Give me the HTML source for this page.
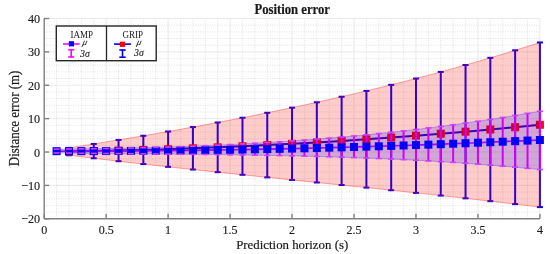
<!DOCTYPE html>
<html><head><meta charset="utf-8"><style>html,body{margin:0;padding:0;background:#fff;width:550px;height:254px;overflow:hidden}svg{display:block;filter:blur(0.4px)}</style></head>
<body><svg width="550" height="254" viewBox="0 0 550 254">
<style>
.mn{stroke:#d4d4d4;stroke-width:0.7;stroke-dasharray:1 1.4}
.mj{stroke:#e8e8e8;stroke-width:0.9}
text{font-family:"Liberation Serif",serif;fill:#1a1a1a;stroke:#1a1a1a;stroke-width:0.2px}
.tk text{font-size:13.1px;stroke-width:0.15px}
.lg{font-size:10.2px;stroke-width:0}
.lgi{font-size:9.2px;font-style:italic;stroke-width:0.1px}
.lgs{font-size:9.8px;font-style:italic;stroke-width:0.1px}
</style>
<rect width="550" height="254" fill="#fff"/>
<g><line x1="56.59" y1="18.50" x2="56.59" y2="218.80" class="mn"/><line x1="68.98" y1="18.50" x2="68.98" y2="218.80" class="mn"/><line x1="81.38" y1="18.50" x2="81.38" y2="218.80" class="mn"/><line x1="93.77" y1="18.50" x2="93.77" y2="218.80" class="mn"/><line x1="118.56" y1="18.50" x2="118.56" y2="218.80" class="mn"/><line x1="130.95" y1="18.50" x2="130.95" y2="218.80" class="mn"/><line x1="143.34" y1="18.50" x2="143.34" y2="218.80" class="mn"/><line x1="155.73" y1="18.50" x2="155.73" y2="218.80" class="mn"/><line x1="180.52" y1="18.50" x2="180.52" y2="218.80" class="mn"/><line x1="192.91" y1="18.50" x2="192.91" y2="218.80" class="mn"/><line x1="205.30" y1="18.50" x2="205.30" y2="218.80" class="mn"/><line x1="217.69" y1="18.50" x2="217.69" y2="218.80" class="mn"/><line x1="242.48" y1="18.50" x2="242.48" y2="218.80" class="mn"/><line x1="254.87" y1="18.50" x2="254.87" y2="218.80" class="mn"/><line x1="267.26" y1="18.50" x2="267.26" y2="218.80" class="mn"/><line x1="279.66" y1="18.50" x2="279.66" y2="218.80" class="mn"/><line x1="304.44" y1="18.50" x2="304.44" y2="218.80" class="mn"/><line x1="316.83" y1="18.50" x2="316.83" y2="218.80" class="mn"/><line x1="329.23" y1="18.50" x2="329.23" y2="218.80" class="mn"/><line x1="341.62" y1="18.50" x2="341.62" y2="218.80" class="mn"/><line x1="366.40" y1="18.50" x2="366.40" y2="218.80" class="mn"/><line x1="378.80" y1="18.50" x2="378.80" y2="218.80" class="mn"/><line x1="391.19" y1="18.50" x2="391.19" y2="218.80" class="mn"/><line x1="403.58" y1="18.50" x2="403.58" y2="218.80" class="mn"/><line x1="428.37" y1="18.50" x2="428.37" y2="218.80" class="mn"/><line x1="440.76" y1="18.50" x2="440.76" y2="218.80" class="mn"/><line x1="453.15" y1="18.50" x2="453.15" y2="218.80" class="mn"/><line x1="465.55" y1="18.50" x2="465.55" y2="218.80" class="mn"/><line x1="490.33" y1="18.50" x2="490.33" y2="218.80" class="mn"/><line x1="502.72" y1="18.50" x2="502.72" y2="218.80" class="mn"/><line x1="515.12" y1="18.50" x2="515.12" y2="218.80" class="mn"/><line x1="527.51" y1="18.50" x2="527.51" y2="218.80" class="mn"/><line x1="44.20" y1="212.12" x2="539.90" y2="212.12" class="mn"/><line x1="44.20" y1="205.45" x2="539.90" y2="205.45" class="mn"/><line x1="44.20" y1="198.77" x2="539.90" y2="198.77" class="mn"/><line x1="44.20" y1="192.09" x2="539.90" y2="192.09" class="mn"/><line x1="44.20" y1="178.74" x2="539.90" y2="178.74" class="mn"/><line x1="44.20" y1="172.06" x2="539.90" y2="172.06" class="mn"/><line x1="44.20" y1="165.39" x2="539.90" y2="165.39" class="mn"/><line x1="44.20" y1="158.71" x2="539.90" y2="158.71" class="mn"/><line x1="44.20" y1="145.36" x2="539.90" y2="145.36" class="mn"/><line x1="44.20" y1="138.68" x2="539.90" y2="138.68" class="mn"/><line x1="44.20" y1="132.00" x2="539.90" y2="132.00" class="mn"/><line x1="44.20" y1="125.33" x2="539.90" y2="125.33" class="mn"/><line x1="44.20" y1="111.97" x2="539.90" y2="111.97" class="mn"/><line x1="44.20" y1="105.30" x2="539.90" y2="105.30" class="mn"/><line x1="44.20" y1="98.62" x2="539.90" y2="98.62" class="mn"/><line x1="44.20" y1="91.94" x2="539.90" y2="91.94" class="mn"/><line x1="44.20" y1="78.59" x2="539.90" y2="78.59" class="mn"/><line x1="44.20" y1="71.91" x2="539.90" y2="71.91" class="mn"/><line x1="44.20" y1="65.24" x2="539.90" y2="65.24" class="mn"/><line x1="44.20" y1="58.56" x2="539.90" y2="58.56" class="mn"/><line x1="44.20" y1="45.21" x2="539.90" y2="45.21" class="mn"/><line x1="44.20" y1="38.53" x2="539.90" y2="38.53" class="mn"/><line x1="44.20" y1="31.85" x2="539.90" y2="31.85" class="mn"/><line x1="44.20" y1="25.18" x2="539.90" y2="25.18" class="mn"/><line x1="106.16" y1="18.50" x2="106.16" y2="218.80" class="mj"/><line x1="168.12" y1="18.50" x2="168.12" y2="218.80" class="mj"/><line x1="230.09" y1="18.50" x2="230.09" y2="218.80" class="mj"/><line x1="292.05" y1="18.50" x2="292.05" y2="218.80" class="mj"/><line x1="354.01" y1="18.50" x2="354.01" y2="218.80" class="mj"/><line x1="415.97" y1="18.50" x2="415.97" y2="218.80" class="mj"/><line x1="477.94" y1="18.50" x2="477.94" y2="218.80" class="mj"/><line x1="539.90" y1="18.50" x2="539.90" y2="218.80" class="mj"/><line x1="44.20" y1="185.42" x2="539.90" y2="185.42" class="mj"/><line x1="44.20" y1="152.03" x2="539.90" y2="152.03" class="mj"/><line x1="44.20" y1="118.65" x2="539.90" y2="118.65" class="mj"/><line x1="44.20" y1="85.27" x2="539.90" y2="85.27" class="mj"/><line x1="44.20" y1="51.88" x2="539.90" y2="51.88" class="mj"/><line x1="44.20" y1="18.50" x2="539.90" y2="18.50" class="mj"/></g>
<g stroke="#0000ff" stroke-width="2"><line x1="68.98" y1="147.88" x2="68.98" y2="155.26"/><line x1="65.98" y1="147.88" x2="71.98" y2="147.88"/><line x1="65.98" y1="155.26" x2="71.98" y2="155.26"/><line x1="93.77" y1="143.95" x2="93.77" y2="158.28"/><line x1="90.77" y1="143.95" x2="96.77" y2="143.95"/><line x1="90.77" y1="158.28" x2="96.77" y2="158.28"/><line x1="118.55" y1="139.93" x2="118.55" y2="161.21"/><line x1="115.55" y1="139.93" x2="121.55" y2="139.93"/><line x1="115.55" y1="161.21" x2="121.55" y2="161.21"/><line x1="143.34" y1="135.78" x2="143.34" y2="164.05"/><line x1="140.34" y1="135.78" x2="146.34" y2="135.78"/><line x1="140.34" y1="164.05" x2="146.34" y2="164.05"/><line x1="168.12" y1="131.50" x2="168.12" y2="166.82"/><line x1="165.12" y1="131.50" x2="171.12" y2="131.50"/><line x1="165.12" y1="166.82" x2="171.12" y2="166.82"/><line x1="192.91" y1="127.08" x2="192.91" y2="169.52"/><line x1="189.91" y1="127.08" x2="195.91" y2="127.08"/><line x1="189.91" y1="169.52" x2="195.91" y2="169.52"/><line x1="217.69" y1="122.49" x2="217.69" y2="172.17"/><line x1="214.69" y1="122.49" x2="220.69" y2="122.49"/><line x1="214.69" y1="172.17" x2="220.69" y2="172.17"/><line x1="242.48" y1="117.73" x2="242.48" y2="174.78"/><line x1="239.48" y1="117.73" x2="245.48" y2="117.73"/><line x1="239.48" y1="174.78" x2="245.48" y2="174.78"/><line x1="267.26" y1="112.79" x2="267.26" y2="177.36"/><line x1="264.26" y1="112.79" x2="270.26" y2="112.79"/><line x1="264.26" y1="177.36" x2="270.26" y2="177.36"/><line x1="292.05" y1="107.65" x2="292.05" y2="179.92"/><line x1="289.05" y1="107.65" x2="295.05" y2="107.65"/><line x1="289.05" y1="179.92" x2="295.05" y2="179.92"/><line x1="316.83" y1="102.30" x2="316.83" y2="182.48"/><line x1="313.83" y1="102.30" x2="319.83" y2="102.30"/><line x1="313.83" y1="182.48" x2="319.83" y2="182.48"/><line x1="341.62" y1="96.73" x2="341.62" y2="185.04"/><line x1="338.62" y1="96.73" x2="344.62" y2="96.73"/><line x1="338.62" y1="185.04" x2="344.62" y2="185.04"/><line x1="366.40" y1="90.91" x2="366.40" y2="187.61"/><line x1="363.40" y1="90.91" x2="369.40" y2="90.91"/><line x1="363.40" y1="187.61" x2="369.40" y2="187.61"/><line x1="391.19" y1="84.85" x2="391.19" y2="190.22"/><line x1="388.19" y1="84.85" x2="394.19" y2="84.85"/><line x1="388.19" y1="190.22" x2="394.19" y2="190.22"/><line x1="415.97" y1="78.52" x2="415.97" y2="192.87"/><line x1="412.97" y1="78.52" x2="418.97" y2="78.52"/><line x1="412.97" y1="192.87" x2="418.97" y2="192.87"/><line x1="440.76" y1="71.92" x2="440.76" y2="195.56"/><line x1="437.76" y1="71.92" x2="443.76" y2="71.92"/><line x1="437.76" y1="195.56" x2="443.76" y2="195.56"/><line x1="465.54" y1="65.03" x2="465.54" y2="198.32"/><line x1="462.54" y1="65.03" x2="468.54" y2="65.03"/><line x1="462.54" y1="198.32" x2="468.54" y2="198.32"/><line x1="490.33" y1="57.83" x2="490.33" y2="201.16"/><line x1="487.33" y1="57.83" x2="493.33" y2="57.83"/><line x1="487.33" y1="201.16" x2="493.33" y2="201.16"/><line x1="515.12" y1="50.31" x2="515.12" y2="204.08"/><line x1="512.12" y1="50.31" x2="518.12" y2="50.31"/><line x1="512.12" y1="204.08" x2="518.12" y2="204.08"/><line x1="539.90" y1="42.47" x2="539.90" y2="207.09"/><line x1="536.90" y1="42.47" x2="542.90" y2="42.47"/><line x1="536.90" y1="207.09" x2="542.90" y2="207.09"/></g>
<polygon points="68.98,147.88 93.77,143.95 118.55,139.93 143.34,135.78 168.12,131.50 192.91,127.08 217.69,122.49 242.48,117.73 267.26,112.79 292.05,107.65 316.83,102.30 341.62,96.73 366.40,90.91 391.19,84.85 415.97,78.52 440.76,71.92 465.54,65.03 490.33,57.83 515.12,50.31 539.90,42.47 539.90,207.09 515.12,204.08 490.33,201.16 465.54,198.32 440.76,195.56 415.97,192.87 391.19,190.22 366.40,187.61 341.62,185.04 316.83,182.48 292.05,179.92 267.26,177.36 242.48,174.78 217.69,172.17 192.91,169.52 168.12,166.82 143.34,164.05 118.55,161.21 93.77,158.28 68.98,155.26" fill="#ff0000" fill-opacity="0.2" stroke="#ff0000" stroke-opacity="0.35" stroke-width="1"/>
<polyline points="68.98,151.57 93.77,151.12 118.55,150.57 143.34,149.92 168.12,149.16 192.91,148.30 217.69,147.33 242.48,146.26 267.26,145.08 292.05,143.79 316.83,142.39 341.62,140.88 366.40,139.26 391.19,137.54 415.97,135.70 440.76,133.74 465.54,131.67 490.33,129.49 515.12,127.20 539.90,124.78" fill="none" stroke="#50009a" stroke-width="2"/>
<g fill="#ff0000"><rect x="64.98" y="147.57" width="8.0" height="8.0"/><rect x="89.77" y="147.12" width="8.0" height="8.0"/><rect x="114.55" y="146.57" width="8.0" height="8.0"/><rect x="139.34" y="145.92" width="8.0" height="8.0"/><rect x="164.12" y="145.16" width="8.0" height="8.0"/><rect x="188.91" y="144.30" width="8.0" height="8.0"/><rect x="213.69" y="143.33" width="8.0" height="8.0"/><rect x="238.48" y="142.26" width="8.0" height="8.0"/><rect x="263.26" y="141.08" width="8.0" height="8.0"/><rect x="288.05" y="139.79" width="8.0" height="8.0"/><rect x="312.83" y="138.39" width="8.0" height="8.0"/><rect x="337.62" y="136.88" width="8.0" height="8.0"/><rect x="362.40" y="135.26" width="8.0" height="8.0"/><rect x="387.19" y="133.54" width="8.0" height="8.0"/><rect x="411.97" y="131.70" width="8.0" height="8.0"/><rect x="436.76" y="129.74" width="8.0" height="8.0"/><rect x="461.54" y="127.67" width="8.0" height="8.0"/><rect x="486.33" y="125.49" width="8.0" height="8.0"/><rect x="511.12" y="123.20" width="8.0" height="8.0"/><rect x="535.90" y="120.78" width="8.0" height="8.0"/></g>
<g stroke="#ff00ff" stroke-width="2"><line x1="56.59" y1="149.11" x2="56.59" y2="152.90"/><line x1="68.98" y1="149.00" x2="68.98" y2="153.07"/><line x1="81.38" y1="148.87" x2="81.38" y2="153.23"/><line x1="93.77" y1="148.70" x2="93.77" y2="153.37"/><line x1="106.16" y1="148.50" x2="106.16" y2="153.50"/><line x1="118.55" y1="148.28" x2="118.55" y2="153.63"/><line x1="130.95" y1="148.02" x2="130.95" y2="153.75"/><line x1="143.34" y1="147.72" x2="143.34" y2="153.87"/><line x1="155.73" y1="147.39" x2="155.73" y2="153.99"/><line x1="168.12" y1="147.02" x2="168.12" y2="154.10"/><line x1="180.52" y1="146.61" x2="180.52" y2="154.23"/><line x1="192.91" y1="146.16" x2="192.91" y2="154.35"/><line x1="205.30" y1="145.66" x2="205.30" y2="154.49"/><line x1="217.69" y1="145.13" x2="217.69" y2="154.64"/><line x1="230.09" y1="144.55" x2="230.09" y2="154.79"/><line x1="242.48" y1="143.92" x2="242.48" y2="154.97"/><line x1="254.87" y1="143.24" x2="254.87" y2="155.16"/><line x1="267.26" y1="142.52" x2="267.26" y2="155.37"/><line x1="279.66" y1="141.74" x2="279.66" y2="155.60"/><line x1="292.05" y1="140.92" x2="292.05" y2="155.86"/><line x1="304.44" y1="140.04" x2="304.44" y2="156.14"/><line x1="316.83" y1="139.10" x2="316.83" y2="156.46"/><line x1="329.23" y1="138.11" x2="329.23" y2="156.80"/><line x1="341.62" y1="137.06" x2="341.62" y2="157.18"/><line x1="354.01" y1="135.95" x2="354.01" y2="157.59"/><line x1="366.40" y1="134.78" x2="366.40" y2="158.04"/><line x1="378.80" y1="133.54" x2="378.80" y2="158.53"/><line x1="391.19" y1="132.25" x2="391.19" y2="159.06"/><line x1="403.58" y1="130.88" x2="403.58" y2="159.64"/><line x1="415.97" y1="129.46" x2="415.97" y2="160.26"/><line x1="428.37" y1="127.96" x2="428.37" y2="160.93"/><line x1="440.76" y1="126.39" x2="440.76" y2="161.66"/><line x1="453.15" y1="124.76" x2="453.15" y2="162.44"/><line x1="465.54" y1="123.05" x2="465.54" y2="163.27"/><line x1="477.94" y1="121.27" x2="477.94" y2="164.16"/><line x1="490.33" y1="119.41" x2="490.33" y2="165.12"/><line x1="502.72" y1="117.47" x2="502.72" y2="166.13"/><line x1="515.12" y1="115.46" x2="515.12" y2="167.21"/><line x1="527.51" y1="113.37" x2="527.51" y2="168.36"/><line x1="539.90" y1="111.20" x2="539.90" y2="169.58"/></g>
<polygon points="56.59,149.11 68.98,149.00 81.38,148.87 93.77,148.70 106.16,148.50 118.55,148.28 130.95,148.02 143.34,147.72 155.73,147.39 168.12,147.02 180.52,146.61 192.91,146.16 205.30,145.66 217.69,145.13 230.09,144.55 242.48,143.92 254.87,143.24 267.26,142.52 279.66,141.74 292.05,140.92 304.44,140.04 316.83,139.10 329.23,138.11 341.62,137.06 354.01,135.95 366.40,134.78 378.80,133.54 391.19,132.25 403.58,130.88 415.97,129.46 428.37,127.96 440.76,126.39 453.15,124.76 465.54,123.05 477.94,121.27 490.33,119.41 502.72,117.47 515.12,115.46 527.51,113.37 539.90,111.20 539.90,169.58 527.51,168.36 515.12,167.21 502.72,166.13 490.33,165.12 477.94,164.16 465.54,163.27 453.15,162.44 440.76,161.66 428.37,160.93 415.97,160.26 403.58,159.64 391.19,159.06 378.80,158.53 366.40,158.04 354.01,157.59 341.62,157.18 329.23,156.80 316.83,156.46 304.44,156.14 292.05,155.86 279.66,155.60 267.26,155.37 254.87,155.16 242.48,154.97 230.09,154.79 217.69,154.64 205.30,154.49 192.91,154.35 180.52,154.23 168.12,154.10 155.73,153.99 143.34,153.87 130.95,153.75 118.55,153.63 106.16,153.50 93.77,153.37 81.38,153.23 68.98,153.07 56.59,152.90" fill="#0000ff" fill-opacity="0.18" stroke="#0000ff" stroke-opacity="0.25" stroke-width="1"/>
<polyline points="56.59,151.17 68.98,151.16 81.38,151.13 93.77,151.09 106.16,151.04 118.55,150.97 130.95,150.89 143.34,150.80 155.73,150.69 168.12,150.57 180.52,150.43 192.91,150.28 205.30,150.12 217.69,149.94 230.09,149.74 242.48,149.54 254.87,149.31 267.26,149.08 279.66,148.82 292.05,148.56 304.44,148.28 316.83,147.98 329.23,147.67 341.62,147.34 354.01,147.00 366.40,146.64 378.80,146.27 391.19,145.88 403.58,145.48 415.97,145.06 428.37,144.63 440.76,144.18 453.15,143.71 465.54,143.23 477.94,142.73 490.33,142.22 502.72,141.69 515.12,141.14 527.51,140.58 539.90,140.00" fill="none" stroke="#b000ff" stroke-width="1.7"/>
<g fill="#0000ff"><rect x="52.59" y="147.17" width="8.0" height="8.0"/><rect x="64.98" y="147.16" width="8.0" height="8.0"/><rect x="77.38" y="147.13" width="8.0" height="8.0"/><rect x="89.77" y="147.09" width="8.0" height="8.0"/><rect x="102.16" y="147.04" width="8.0" height="8.0"/><rect x="114.55" y="146.97" width="8.0" height="8.0"/><rect x="126.95" y="146.89" width="8.0" height="8.0"/><rect x="139.34" y="146.80" width="8.0" height="8.0"/><rect x="151.73" y="146.69" width="8.0" height="8.0"/><rect x="164.12" y="146.57" width="8.0" height="8.0"/><rect x="176.52" y="146.43" width="8.0" height="8.0"/><rect x="188.91" y="146.28" width="8.0" height="8.0"/><rect x="201.30" y="146.12" width="8.0" height="8.0"/><rect x="213.69" y="145.94" width="8.0" height="8.0"/><rect x="226.09" y="145.74" width="8.0" height="8.0"/><rect x="238.48" y="145.54" width="8.0" height="8.0"/><rect x="250.87" y="145.31" width="8.0" height="8.0"/><rect x="263.26" y="145.08" width="8.0" height="8.0"/><rect x="275.66" y="144.82" width="8.0" height="8.0"/><rect x="288.05" y="144.56" width="8.0" height="8.0"/><rect x="300.44" y="144.28" width="8.0" height="8.0"/><rect x="312.83" y="143.98" width="8.0" height="8.0"/><rect x="325.23" y="143.67" width="8.0" height="8.0"/><rect x="337.62" y="143.34" width="8.0" height="8.0"/><rect x="350.01" y="143.00" width="8.0" height="8.0"/><rect x="362.40" y="142.64" width="8.0" height="8.0"/><rect x="374.80" y="142.27" width="8.0" height="8.0"/><rect x="387.19" y="141.88" width="8.0" height="8.0"/><rect x="399.58" y="141.48" width="8.0" height="8.0"/><rect x="411.97" y="141.06" width="8.0" height="8.0"/><rect x="424.37" y="140.63" width="8.0" height="8.0"/><rect x="436.76" y="140.18" width="8.0" height="8.0"/><rect x="449.15" y="139.71" width="8.0" height="8.0"/><rect x="461.54" y="139.23" width="8.0" height="8.0"/><rect x="473.94" y="138.73" width="8.0" height="8.0"/><rect x="486.33" y="138.22" width="8.0" height="8.0"/><rect x="498.72" y="137.69" width="8.0" height="8.0"/><rect x="511.12" y="137.14" width="8.0" height="8.0"/><rect x="523.51" y="136.58" width="8.0" height="8.0"/><rect x="535.90" y="136.00" width="8.0" height="8.0"/></g>
<g stroke="#d040ff" stroke-width="1.6"><line x1="53.59" y1="149.11" x2="59.59" y2="149.11"/><line x1="53.59" y1="152.90" x2="59.59" y2="152.90"/><line x1="65.98" y1="149.00" x2="71.98" y2="149.00"/><line x1="65.98" y1="153.07" x2="71.98" y2="153.07"/><line x1="78.38" y1="148.87" x2="84.38" y2="148.87"/><line x1="78.38" y1="153.23" x2="84.38" y2="153.23"/><line x1="90.77" y1="148.70" x2="96.77" y2="148.70"/><line x1="90.77" y1="153.37" x2="96.77" y2="153.37"/><line x1="103.16" y1="148.50" x2="109.16" y2="148.50"/><line x1="103.16" y1="153.50" x2="109.16" y2="153.50"/><line x1="115.55" y1="148.28" x2="121.55" y2="148.28"/><line x1="115.55" y1="153.63" x2="121.55" y2="153.63"/><line x1="127.95" y1="148.02" x2="133.95" y2="148.02"/><line x1="127.95" y1="153.75" x2="133.95" y2="153.75"/><line x1="140.34" y1="147.72" x2="146.34" y2="147.72"/><line x1="140.34" y1="153.87" x2="146.34" y2="153.87"/><line x1="152.73" y1="147.39" x2="158.73" y2="147.39"/><line x1="152.73" y1="153.99" x2="158.73" y2="153.99"/><line x1="165.12" y1="147.02" x2="171.12" y2="147.02"/><line x1="165.12" y1="154.10" x2="171.12" y2="154.10"/><line x1="177.52" y1="146.61" x2="183.52" y2="146.61"/><line x1="177.52" y1="154.23" x2="183.52" y2="154.23"/><line x1="189.91" y1="146.16" x2="195.91" y2="146.16"/><line x1="189.91" y1="154.35" x2="195.91" y2="154.35"/><line x1="202.30" y1="145.66" x2="208.30" y2="145.66"/><line x1="202.30" y1="154.49" x2="208.30" y2="154.49"/><line x1="214.69" y1="145.13" x2="220.69" y2="145.13"/><line x1="214.69" y1="154.64" x2="220.69" y2="154.64"/><line x1="227.09" y1="144.55" x2="233.09" y2="144.55"/><line x1="227.09" y1="154.79" x2="233.09" y2="154.79"/><line x1="239.48" y1="143.92" x2="245.48" y2="143.92"/><line x1="239.48" y1="154.97" x2="245.48" y2="154.97"/><line x1="251.87" y1="143.24" x2="257.87" y2="143.24"/><line x1="251.87" y1="155.16" x2="257.87" y2="155.16"/><line x1="264.26" y1="142.52" x2="270.26" y2="142.52"/><line x1="264.26" y1="155.37" x2="270.26" y2="155.37"/><line x1="276.66" y1="141.74" x2="282.66" y2="141.74"/><line x1="276.66" y1="155.60" x2="282.66" y2="155.60"/><line x1="289.05" y1="140.92" x2="295.05" y2="140.92"/><line x1="289.05" y1="155.86" x2="295.05" y2="155.86"/><line x1="301.44" y1="140.04" x2="307.44" y2="140.04"/><line x1="301.44" y1="156.14" x2="307.44" y2="156.14"/><line x1="313.83" y1="139.10" x2="319.83" y2="139.10"/><line x1="313.83" y1="156.46" x2="319.83" y2="156.46"/><line x1="326.23" y1="138.11" x2="332.23" y2="138.11"/><line x1="326.23" y1="156.80" x2="332.23" y2="156.80"/><line x1="338.62" y1="137.06" x2="344.62" y2="137.06"/><line x1="338.62" y1="157.18" x2="344.62" y2="157.18"/><line x1="351.01" y1="135.95" x2="357.01" y2="135.95"/><line x1="351.01" y1="157.59" x2="357.01" y2="157.59"/><line x1="363.40" y1="134.78" x2="369.40" y2="134.78"/><line x1="363.40" y1="158.04" x2="369.40" y2="158.04"/><line x1="375.80" y1="133.54" x2="381.80" y2="133.54"/><line x1="375.80" y1="158.53" x2="381.80" y2="158.53"/><line x1="388.19" y1="132.25" x2="394.19" y2="132.25"/><line x1="388.19" y1="159.06" x2="394.19" y2="159.06"/><line x1="400.58" y1="130.88" x2="406.58" y2="130.88"/><line x1="400.58" y1="159.64" x2="406.58" y2="159.64"/><line x1="412.97" y1="129.46" x2="418.97" y2="129.46"/><line x1="412.97" y1="160.26" x2="418.97" y2="160.26"/><line x1="425.37" y1="127.96" x2="431.37" y2="127.96"/><line x1="425.37" y1="160.93" x2="431.37" y2="160.93"/><line x1="437.76" y1="126.39" x2="443.76" y2="126.39"/><line x1="437.76" y1="161.66" x2="443.76" y2="161.66"/><line x1="450.15" y1="124.76" x2="456.15" y2="124.76"/><line x1="450.15" y1="162.44" x2="456.15" y2="162.44"/><line x1="462.54" y1="123.05" x2="468.54" y2="123.05"/><line x1="462.54" y1="163.27" x2="468.54" y2="163.27"/><line x1="474.94" y1="121.27" x2="480.94" y2="121.27"/><line x1="474.94" y1="164.16" x2="480.94" y2="164.16"/><line x1="487.33" y1="119.41" x2="493.33" y2="119.41"/><line x1="487.33" y1="165.12" x2="493.33" y2="165.12"/><line x1="499.72" y1="117.47" x2="505.72" y2="117.47"/><line x1="499.72" y1="166.13" x2="505.72" y2="166.13"/><line x1="512.12" y1="115.46" x2="518.12" y2="115.46"/><line x1="512.12" y1="167.21" x2="518.12" y2="167.21"/><line x1="524.51" y1="113.37" x2="530.51" y2="113.37"/><line x1="524.51" y1="168.36" x2="530.51" y2="168.36"/><line x1="536.90" y1="111.20" x2="542.90" y2="111.20"/><line x1="536.90" y1="169.58" x2="542.90" y2="169.58"/></g>
<g stroke="#808080" stroke-width="1.4"><line x1="44.20" y1="18.50" x2="44.20" y2="218.80"/><line x1="44.20" y1="218.80" x2="539.90" y2="218.80"/><line x1="44.20" y1="218.80" x2="49.20" y2="218.80"/><line x1="44.20" y1="185.42" x2="49.20" y2="185.42"/><line x1="44.20" y1="152.03" x2="49.20" y2="152.03"/><line x1="44.20" y1="118.65" x2="49.20" y2="118.65"/><line x1="44.20" y1="85.27" x2="49.20" y2="85.27"/><line x1="44.20" y1="51.88" x2="49.20" y2="51.88"/><line x1="44.20" y1="18.50" x2="49.20" y2="18.50"/><line x1="44.20" y1="218.80" x2="44.20" y2="213.80"/><line x1="106.16" y1="218.80" x2="106.16" y2="213.80"/><line x1="168.12" y1="218.80" x2="168.12" y2="213.80"/><line x1="230.09" y1="218.80" x2="230.09" y2="213.80"/><line x1="292.05" y1="218.80" x2="292.05" y2="213.80"/><line x1="354.01" y1="218.80" x2="354.01" y2="213.80"/><line x1="415.97" y1="218.80" x2="415.97" y2="213.80"/><line x1="477.94" y1="218.80" x2="477.94" y2="213.80"/><line x1="539.90" y1="218.80" x2="539.90" y2="213.80"/></g>
<g class="tk"><text transform="translate(40.20,223.40) scale(0.93,1)" text-anchor="end">−20</text><text transform="translate(40.20,190.02) scale(0.93,1)" text-anchor="end">−10</text><text transform="translate(40.20,156.63) scale(0.93,1)" text-anchor="end">0</text><text transform="translate(40.20,123.25) scale(0.93,1)" text-anchor="end">10</text><text transform="translate(40.20,89.87) scale(0.93,1)" text-anchor="end">20</text><text transform="translate(40.20,56.48) scale(0.93,1)" text-anchor="end">30</text><text transform="translate(40.20,23.10) scale(0.93,1)" text-anchor="end">40</text><text transform="translate(44.20,233.6) scale(0.92,1)" text-anchor="middle">0</text><text transform="translate(106.16,233.6) scale(0.92,1)" text-anchor="middle">0.5</text><text transform="translate(168.12,233.6) scale(0.92,1)" text-anchor="middle">1</text><text transform="translate(230.09,233.6) scale(0.92,1)" text-anchor="middle">1.5</text><text transform="translate(292.05,233.6) scale(0.92,1)" text-anchor="middle">2</text><text transform="translate(354.01,233.6) scale(0.92,1)" text-anchor="middle">2.5</text><text transform="translate(415.97,233.6) scale(0.92,1)" text-anchor="middle">3</text><text transform="translate(477.94,233.6) scale(0.92,1)" text-anchor="middle">3.5</text><text transform="translate(539.90,233.6) scale(0.92,1)" text-anchor="middle">4</text></g>
<text x="292.2" y="13.5" text-anchor="middle" font-weight="bold" font-size="14" stroke-width="0.3" textLength="75.5" lengthAdjust="spacingAndGlyphs">Position error</text>
<text x="292.2" y="249.1" text-anchor="middle" font-size="13.4" textLength="112" lengthAdjust="spacingAndGlyphs">Prediction horizon (s)</text>
<text transform="translate(18.9,118.4) rotate(-90)" text-anchor="middle" font-size="13.7" textLength="95.5" lengthAdjust="spacingAndGlyphs">Distance error (m)</text>

<rect x="56.3" y="26" width="99.9" height="34.7" fill="#fff" stroke="#262626" stroke-width="1.4"/>
<line x1="106.5" y1="26" x2="106.5" y2="60.7" stroke="#262626" stroke-width="1.3"/>
<text x="81.8" y="37.5" text-anchor="middle" class="lg" textLength="22.6" lengthAdjust="spacingAndGlyphs">IAMP</text>
<text x="132.7" y="37.6" text-anchor="middle" class="lg" textLength="20.6" lengthAdjust="spacingAndGlyphs">GRIP</text>
<line x1="63" y1="44" x2="79.7" y2="44" stroke="#ff00ff" stroke-width="1.6"/>
<rect x="68.8" y="41.2" width="5.2" height="5.2" fill="#0000ff"/>
<line x1="114" y1="44.1" x2="131" y2="44.1" stroke="#0000ff" stroke-width="1.6"/>
<rect x="119.8" y="41.7" width="5.2" height="5.2" fill="#ff0000"/>
<g stroke="#ff00ff" stroke-width="1.6"><line x1="71.2" y1="49.4" x2="71.2" y2="57.2"/><line x1="68.2" y1="49.8" x2="74.2" y2="49.8"/><line x1="68.2" y1="57" x2="74.2" y2="57"/></g>
<g stroke="#0000ff" stroke-width="1.6"><line x1="122.5" y1="49.4" x2="122.5" y2="57.6"/><line x1="119.3" y1="50" x2="125.7" y2="50"/><line x1="119.3" y1="57.2" x2="125.7" y2="57.2"/></g>
<text transform="translate(82,45.3) skewX(-14)" class="lgi">μ</text>
<text transform="translate(136.3,45.4) skewX(-14)" class="lgi">μ</text>
<text x="80" y="56.5" class="lgs"><tspan>3</tspan><tspan font-style="italic">σ</tspan></text>
<text x="134" y="56.2" class="lgs"><tspan>3</tspan><tspan font-style="italic">σ</tspan></text>

</svg></body></html>
